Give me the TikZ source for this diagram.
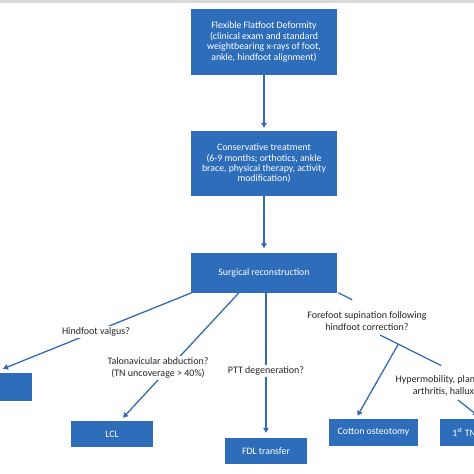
\documentclass[tikz,border=0pt]{standalone}
\usepackage{fontspec}
\setmainfont{Carlito}
\usetikzlibrary{arrows.meta,calc}
\definecolor{boxblue}{RGB}{46,109,185}
\definecolor{lineblue}{RGB}{52,106,180}
\definecolor{striptone}{RGB}{218,218,218}
\begin{document}
\begin{tikzpicture}[x=1pt,y=-1pt,
  box/.style={draw=none,fill=boxblue,text=white,font=\fontsize{9.8}{10.4}\selectfont,align=center,inner sep=0pt},
  lbl/.style={fill=white,text=black!85,font=\fontsize{10}{12}\selectfont,align=center,inner sep=1.5pt},
  conn/.style={draw=lineblue,line width=1.3pt},
  arr/.style={conn,-{Triangle[length=5pt,width=5.5pt]}}]
\clip (0,0) rectangle (474,474);
\fill[white] (0,0) rectangle (474,474);
\fill[striptone] (0,0) rectangle (474,3);

% boxes
\node[box,minimum width=146pt,minimum height=66pt] (top) at (264,42)
  {Flexible Flatfoot Deformity\\(clinical exam and standard\\weightbearing x-rays of foot,\\ankle, hindfoot alignment)};
\node[box,minimum width=146pt,minimum height=65pt] (cons) at (264,163.5)
  {Conservative treatment\\(6-9 months; orthotics, ankle\\brace, physical therapy, activity\\modification)};
\node[box,minimum width=146pt,minimum height=40pt] (surg) at (264,272.5) {Surgical reconstruction};
\node[box,minimum width=82pt,minimum height=28pt] (lbox) at (-9,387) {};
\node[box,minimum width=82pt,minimum height=26pt] (lcl) at (112,434) {LCL};
\node[box,minimum width=82pt,minimum height=26pt] (fdl) at (266,451) {FDL transfer};
\node[box,minimum width=89pt,minimum height=27pt] (cot) at (373.5,432.5) {Cotton osteotomy};
\node[box,minimum width=82pt,minimum height=27pt] (tmt) at (481,432.5) {1\textsuperscript{st} TMT fusion};

% connector points
\coordinate (s1) at ($(surg.south west)+(1,0)$);
\coordinate (e1) at ($(lbox.north)+(12,-4)$);
\coordinate (s2) at ($(surg.south west)!0.329!(surg.south east)$);
\coordinate (e2) at ($(lcl.north)+(11,-3)$);
\coordinate (s3) at ($(surg.south)+(2,0)$);
\coordinate (s4) at ($(surg.south east)+(1,0)$);
\coordinate (f1) at ($(s4)+(14,7)$);
\coordinate (b0) at (380,335);
\coordinate (b1) at (441,365.5);
\coordinate (br) at ($(b0)!0.3!(b1)$);
\coordinate (h1) at (458,400);

% connectors
\draw[arr,shorten >=3pt] (top) -- (cons);
\draw[arr,shorten >=4pt] (cons) -- (surg);
\draw[arr] (s1) -- (e1);
\draw[arr] (s2) -- (e2);
\draw[arr,shorten >=5pt] (s3) -- (fdl.north);
\draw[conn] (s4) -- (f1);
\draw[conn] (b0) -- (b1);
\draw[arr] (br) -- ($(cot.north)+(-16,-3)$);
\draw[arr] (h1) -- ($(tmt.north)+(-3,-3)$);

% labels
\node[lbl] (hv) at (96,332) {Hindfoot valgus?};
\node[lbl] (tn) at (158,368) {Talonavicular abduction?\\(TN uncoverage > 40\%)};
\node[lbl] (ptt) at (266,371) {PTT degeneration?};
\node[lbl] (ff) at (367,321) {Forefoot supination following\\hindfoot correction?};
\node[lbl,anchor=west] (hm) at (394,386) {Hypermobility, plantar gapping,\\arthritis, hallux valgus?};
\end{tikzpicture}
\end{document}
